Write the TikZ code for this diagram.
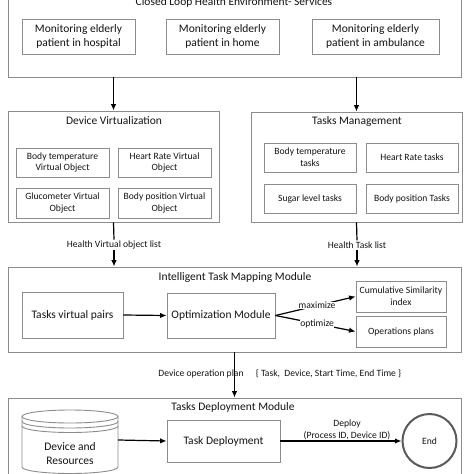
\documentclass[tikz,border=0pt]{standalone}
\usepackage{fontspec}
\setmainfont{Carlito}
\usetikzlibrary{arrows.meta}
\definecolor{boxgray}{HTML}{8C8C8C}
\definecolor{txt}{HTML}{141414}
\definecolor{endgray}{HTML}{5A5A5A}
\begin{document}
\begin{tikzpicture}[x=1pt,y=-1pt,
  box/.style={draw=boxgray, line width=0.9pt, align=center, inner sep=1pt, text=txt},
  big/.style={font=\fontsize{11.5}{14}\selectfont},
  small/.style={font=\fontsize{9.6}{11.7}\selectfont},
  lbl/.style={text=txt, align=center, inner sep=1pt},
  arr/.style={-{Latex[length=6.5pt,width=5.5pt]}, line width=1.2pt, black},
  ln/.style={line width=1.2pt, black}]
\fill[white] (0,0) rectangle (474,474);
\useasboundingbox (0,0) rectangle (474,474);

% Closed loop environment
\node[box, minimum width=453pt, minimum height=87pt] (env) at (234.5,33.5) {};
\node[lbl, big, anchor=base] (envt) at (234,5) {Closed Loop Health Environment- Services};
\node[box, big, minimum width=113pt, minimum height=35pt] (hosp) at (78.5,36.5) {Monitoring elderly\\patient in hospital};
\node[box, big, minimum width=113pt, minimum height=35pt] (home) at (222.5,36.5) {Monitoring elderly\\patient in home};
\node[box, big, minimum width=127pt, minimum height=35pt] (amb) at (375.5,36.5) {Monitoring elderly\\patient in ambulance};

% Device virtualization
\node[box, minimum width=211pt, minimum height=111pt] (dv) at (113.5,166.5) {};
\node[lbl, big] (dvt) at (114,121) {Device Virtualization};
\node[box, small, minimum width=93pt, minimum height=29pt] (bt) at (62.5,162.5) {Body temperature\\Virtual Object};
\node[box, small, minimum width=93pt, minimum height=29pt] (hr) at (164.5,162.5) {Heart Rate Virtual\\Object};
\node[box, small, minimum width=93pt, minimum height=30pt] (gl) at (62.5,203) {Glucometer Virtual\\Object};
\node[box, small, minimum width=93pt, minimum height=30pt] (bp) at (164.5,203) {Body position Virtual\\Object};

% Tasks management
\node[box, minimum width=211pt, minimum height=110pt] (tm) at (356.5,167) {};
\node[lbl, big] (tmt) at (357,121) {Tasks Management};
\node[box, small, minimum width=92pt, minimum height=29pt] (btt) at (310,157.5) {Body temperature\\tasks};
\node[box, small, minimum width=92pt, minimum height=29pt] (hrt) at (412,157.5) {Heart Rate tasks};
\node[box, small, minimum width=92pt, minimum height=29pt] (slt) at (310,198.5) {Sugar level tasks};
\node[box, small, minimum width=92pt, minimum height=29pt] (bpt) at (412,198.5) {Body position Tasks};

\draw[arr] (env.south -| dv.north) -- (dv.north);
\draw[arr] (env.south -| tm.north) -- (tm.north);

% Intelligent task mapping
\node[box, minimum width=453pt, minimum height=85pt] (itmm) at (234.5,309.5) {};
\node[lbl, big] (itmmt) at (235,277) {Intelligent Task Mapping Module};
\node[box, big, minimum width=101pt, minimum height=46pt] (tvp) at (72.5,315) {Tasks virtual pairs};
\node[box, big, minimum width=108pt, minimum height=45pt] (om) at (221,315.5) {Optimization Module};
\node[box, small, minimum width=90pt, minimum height=31pt] (csi) at (401,296.5) {Cumulative Similarity\\index};
\node[box, small, minimum width=90pt, minimum height=31pt] (op) at (401,331.5) {Operations plans};

\node[lbl, small] (hv) at (114,245) {Health Virtual object list};
\node[lbl, small] (ht) at (357,245) {Health Task list};
\draw[ln] (dv.south) -- (hv.north);
\draw[arr] (hv.south) -- (itmm.north -| hv.south);
\draw[ln] (tm.south) -- (ht.north);
\draw[arr] (ht.south) -- (itmm.north -| ht.south);

\draw[arr] (tvp.east) -- (om.west);
\draw[arr] (om.east) -- node[lbl, small, fill=white, inner sep=0.5pt, pos=0.52] {maximize} (csi.west);
\draw[arr] (om.east) -- node[lbl, small, fill=white, inner sep=0.5pt, pos=0.52] {optimize} (op.west);

% Tasks deployment
\node[box, minimum width=453pt, minimum height=92pt] (tdm) at (234.5,444) {};
\node[lbl, big] (tdmt) at (233,407) {Tasks Deployment Module};

\node[lbl, small] (dop) at (201,374) {Device operation plan};
\node[lbl, small] (dopv) at (328.5,374) {\{ Task,\ \ Device, Start Time, End Time \}};
\draw[arr] (itmm.south) -- (tdm.north);

% cylinder
\draw[boxgray, line width=0.9pt, fill=white] (22,416.5) -- (22,467)
  arc[start angle=180, end angle=0, x radius=48, y radius=6.5] -- (118,416.5);
\draw[boxgray, line width=0.9pt] (70,416.5) ellipse [x radius=48, y radius=6.5];
\draw[boxgray, line width=0.9pt] (22,421.5) arc[start angle=180, end angle=0, x radius=48, y radius=6.5];
\draw[boxgray, line width=0.9pt] (22,426) arc[start angle=180, end angle=0, x radius=48, y radius=6.5];
\node[minimum width=96pt, minimum height=60pt, inner sep=0pt] (cyl) at (70,440) {};
\node[lbl, big] (cylt) at (70,454) {Device and\\Resources};

\node[box, big, minimum width=113pt, minimum height=42pt] (td) at (223.5,441) {Task Deployment};
\node[circle, draw=endgray, line width=2pt, minimum size=54pt, inner sep=0pt, text=txt, small] (end) at (429.5,441) {End};
\draw[arr] (cyl.east) -- (td.west);
\draw[arr] (td.east) -- (end.west);
\node[lbl, small] (dep) at (347,429.5) {Deploy\\(Process ID, Device ID)};
\end{tikzpicture}
\end{document}
